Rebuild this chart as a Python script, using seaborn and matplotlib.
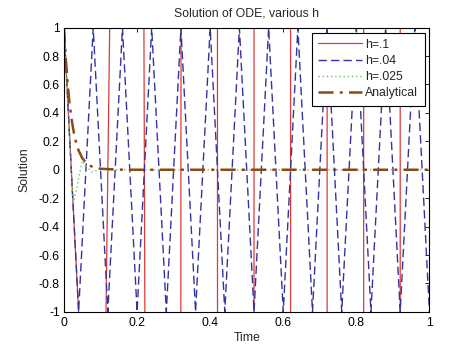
import matplotlib
matplotlib.use("Agg")
import matplotlib.pyplot as plt
import seaborn as sns
import pandas as pd

# ---- data ----
t_h1 = [0.0, 0.1, 0.2, 0.3, 0.4, 0.5, 0.6, 0.7, 0.8, 0.9, 1.0]
y_h1 = [1, -4, 16, -64, 256, -1024, 4096, -16384, 65536, -262144, 1048576]

t_h04 = [0.0, 0.04, 0.08, 0.12, 0.16, 0.2, 0.24, 0.28, 0.32, 0.36, 0.4, 0.44, 0.48,
         0.52, 0.56, 0.6, 0.64, 0.68, 0.72, 0.76, 0.8, 0.84, 0.88, 0.92, 0.96, 1.0]
y_h04 = [1, -1, 1, -1, 1, -1, 1, -1, 1, -1, 1, -1, 1,
         -1, 1, -1, 1, -1, 1, -1, 1, -1, 1, -1, 1, -1]

t_h025 = [0.0, 0.025, 0.05, 0.075, 0.1, 0.125, 0.15, 0.2, 0.3, 0.4, 0.5, 0.6, 0.7, 0.8, 0.9, 1.0]
y_h025 = [1, -0.25, 0.0625, -0.0156, 0.0039, -0.001, 0.0002, 0, 0, 0, 0, 0, 0, 0, 0, 0]

t_an = [0.0, 0.005, 0.01, 0.015, 0.02, 0.025, 0.03, 0.04, 0.05, 0.06, 0.07, 0.08,
        0.1, 0.15, 0.2, 0.3, 0.4, 0.5, 0.6, 0.7, 0.8, 0.9, 1.0]
y_an = [1, 0.78, 0.61, 0.47, 0.37, 0.29, 0.22, 0.135, 0.082, 0.05, 0.03, 0.018,
        0.007, 0.0006, 0, 0, 0, 0, 0, 0, 0, 0, 0]

labels = ["h=.1", "h=.04", "h=.025", "Analytical"]
title = "Solution of ODE, various h"
xlabel = "Time"
ylabel = "Solution"
xticks = [0, 0.2, 0.4, 0.6, 0.8, 1]
xticklabels = ["0", "0.2", "0.4", "0.6", "0.8", "1"]
yticks = [-1, -0.8, -0.6, -0.4, -0.2, 0, 0.2, 0.4, 0.6, 0.8, 1]
yticklabels = ["-1", "-0.8", "-0.6", "-0.4", "-0.2", "0", "0.2", "0.4", "0.6", "0.8", "1"]

sns.set_style("white")
plt.rcParams["font.family"] = ["Liberation Sans", "DejaVu Sans"]

fig = plt.figure(figsize=(4.74, 3.5), dpi=100)
ax = fig.add_axes([0.135, 0.109, 0.771, 0.812])

def draw(t, y, label, **kw):
    df = pd.DataFrame({"t": t, "y": y})
    sns.lineplot(data=df, x="t", y="y", ax=ax, sort=False, estimator=None,
                 label=label, **kw)

draw(t_h1, y_h1, labels[0], color="#dc3a3a", linewidth=0.9)
draw(t_h04, y_h04, labels[1], color="#34349e", linewidth=1.0, dashes=(6, 3))
draw(t_h025, y_h025, labels[2], color="#6fbf6f", linewidth=1.0, dashes=(1, 2))
draw(t_an, y_an, labels[3], color="#8a4a10", linewidth=1.8, dashes=(6, 2.5, 1.2, 2.5))

ax.set_xlim(0, 1)
ax.set_ylim(-1, 1)
ax.set_xticks(xticks)
ax.set_xticklabels(xticklabels)
ax.set_yticks(yticks)
ax.set_yticklabels(yticklabels)
ax.tick_params(direction="in", top=True, right=True, length=3, width=0.6,
               labelsize=8.8, colors="black", pad=3)
ax.tick_params(axis="x", pad=4)
for s in ax.spines.values():
    s.set_visible(True)
    s.set_color("black")
    s.set_linewidth(0.8)

ax.set_title(title, fontsize=8.8, pad=8)
ax.set_xlabel(xlabel, fontsize=8.8, labelpad=2)
ax.set_ylabel(ylabel, fontsize=8.8, labelpad=6)

leg = ax.legend(loc="upper right", fontsize=8.8, frameon=True, fancybox=False,
                framealpha=1, edgecolor="black", handlelength=3.6,
                borderpad=0.5, labelspacing=0.35, handletextpad=0.3,
                borderaxespad=0.4)
leg.get_frame().set_linewidth(0.8)

fig.savefig("out.png", dpi=100, facecolor="white")
